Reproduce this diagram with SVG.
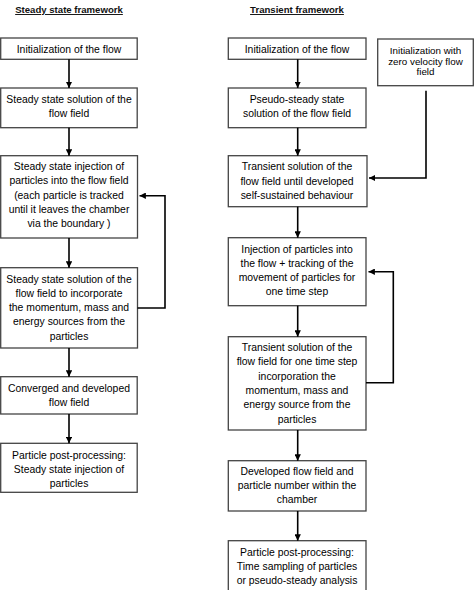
<svg xmlns="http://www.w3.org/2000/svg" width="474" height="590" viewBox="0 0 474 590">
<defs>
<marker id="ah" viewBox="0 0 10 10" refX="10" refY="5" markerWidth="4" markerHeight="4" orient="auto" markerUnits="strokeWidth">
<path d="M0,0 L10,5 L0,10 z" fill="#000"/>
</marker>
</defs>
<style>
.box{fill:#fff;stroke:#444;stroke-width:1.3}
.t{font-family:"Liberation Sans",Arial,sans-serif;font-size:10.4px;fill:#000;text-anchor:middle}
.s{font-size:9.8px}
.h{font-family:"Liberation Sans",Arial,sans-serif;font-size:9.6px;font-weight:bold;fill:#111;text-anchor:middle;text-decoration:underline}
.c{fill:none;stroke:#000;stroke-width:1.6}
</style>
<rect width="474" height="590" fill="#fff"/>
<text class="h" x="69" y="13">Steady state framework</text>
<text class="h" x="297" y="13">Transient framework</text>

<g id="L1"><rect class="box" x="0.7" y="38" width="136.5" height="21.3"/>
<text class="t" x="69" y="52.8">Initialization of the flow</text></g>
<g id="L2"><rect class="box" x="0.7" y="88" width="136.5" height="39.7"/>
<text class="t" x="69" y="103">Steady state solution of the</text>
<text class="t" x="69" y="117">flow field</text></g>
<g id="L3"><rect class="box" x="0.7" y="155.7" width="136.8" height="82.3"/>
<text class="t" x="69" y="170.4">Steady state injection of</text>
<text class="t" x="69" y="184.4">particles into the flow field</text>
<text class="t" x="69" y="198.7">(each particle is tracked</text>
<text class="t" x="69" y="212.7">until it leaves the chamber</text>
<text class="t" x="69" y="227">via the boundary )</text></g>
<g id="L4"><rect class="box" x="0.7" y="267.7" width="136.8" height="80.3"/>
<text class="t" x="69" y="282.7">Steady state solution of the</text>
<text class="t" x="69" y="297">flow field to incorporate</text>
<text class="t" x="69" y="311">the momentum, mass and</text>
<text class="t" x="69" y="325.4">energy sources from the</text>
<text class="t" x="69" y="340">particles</text></g>
<g id="L5"><rect class="box" x="0.7" y="376.7" width="136.5" height="37.3"/>
<text class="t" x="69" y="392">Converged and developed</text>
<text class="t" x="69" y="406">flow field</text></g>
<g id="L6"><rect class="box" x="0.7" y="443.3" width="136.5" height="49"/>
<text class="t" x="69" y="458.7">Particle post-processing:</text>
<text class="t" x="69" y="472.7">Steady state injection of</text>
<text class="t" x="69" y="487">particles</text></g>

<g id="R1"><rect class="box" x="228.3" y="38" width="137.7" height="21.3"/>
<text class="t" x="297" y="52.8">Initialization of the flow</text></g>
<g id="Z"><rect class="box" x="377.7" y="39" width="95.6" height="46.7"/>
<text class="t s" x="425.5" y="54">Initialization with</text>
<text class="t s" x="425.5" y="64.6">zero velocity flow</text>
<text class="t s" x="425.5" y="75">field</text></g>
<g id="R2"><rect class="box" x="228.3" y="88" width="137.7" height="39.7"/>
<text class="t" x="297" y="103">Pseudo-steady state</text>
<text class="t" x="297" y="117">solution of the flow field</text></g>
<g id="R3"><rect class="box" x="228.3" y="155.7" width="138.7" height="51"/>
<text class="t" x="297" y="170.4">Transient solution of the</text>
<text class="t" x="297" y="185.4">flow field until developed</text>
<text class="t" x="297" y="198.7">self-sustained behaviour</text></g>
<g id="R4"><rect class="box" x="228.3" y="237.7" width="137.7" height="68"/>
<text class="t" x="297" y="253">Injection of particles into</text>
<text class="t" x="297" y="267">the flow + tracking of the</text>
<text class="t" x="297" y="281">movement of particles for</text>
<text class="t" x="297" y="295.4">one time step</text></g>
<g id="R5"><rect class="box" x="228.3" y="336.7" width="137.7" height="93.3"/>
<text class="t" x="297" y="351">Transient solution of the</text>
<text class="t" x="297" y="365.4">flow field for one time step</text>
<text class="t" x="297" y="379.7">incorporation the</text>
<text class="t" x="297" y="393.7">momentum, mass and</text>
<text class="t" x="297" y="408">energy source from the</text>
<text class="t" x="297" y="422.7">particles</text></g>
<g id="R6"><rect class="box" x="228.3" y="460.7" width="137.7" height="50.3"/>
<text class="t" x="297" y="474.7">Developed flow field and</text>
<text class="t" x="297" y="489.4">particle number within the</text>
<text class="t" x="297" y="503.4">chamber</text></g>
<g id="R7"><rect class="box" x="228.3" y="540.7" width="137.7" height="50"/>
<text class="t" x="297" y="556">Particle post-processing:</text>
<text class="t" x="297" y="570">Time sampling of particles</text>
<text class="t" x="297" y="584">or pseudo-steady analysis</text></g>

<g id="connectors">
<line class="c" x1="69" y1="59.3" x2="69" y2="88" marker-end="url(#ah)"/>
<line class="c" x1="69" y1="127.7" x2="69" y2="155.7" marker-end="url(#ah)"/>
<line class="c" x1="69" y1="238" x2="69" y2="267.7" marker-end="url(#ah)"/>
<line class="c" x1="69" y1="348" x2="69" y2="376.7" marker-end="url(#ah)"/>
<line class="c" x1="69" y1="414" x2="69" y2="443.3" marker-end="url(#ah)"/>
<polyline class="c" points="137.5,308 165,308 165,195.7 139.5,195.7" marker-end="url(#ah)"/>

<line class="c" x1="297.7" y1="59.3" x2="297.7" y2="88" marker-end="url(#ah)"/>
<line class="c" x1="297.7" y1="127.7" x2="297.7" y2="155.7" marker-end="url(#ah)"/>
<line class="c" x1="297.7" y1="206.7" x2="297.7" y2="237.7" marker-end="url(#ah)"/>
<line class="c" x1="297.7" y1="305.7" x2="297.7" y2="336.7" marker-end="url(#ah)"/>
<line class="c" x1="297.7" y1="430" x2="297.7" y2="460.7" marker-end="url(#ah)"/>
<line class="c" x1="297.7" y1="511" x2="297.7" y2="540.7" marker-end="url(#ah)"/>
<polyline class="c" points="426,90.7 426,178 369,178" marker-end="url(#ah)"/>
<polyline class="c" points="366,382.7 393.3,382.7 393.3,271.7 368.5,271.7" marker-end="url(#ah)"/>
</g>
</svg>
